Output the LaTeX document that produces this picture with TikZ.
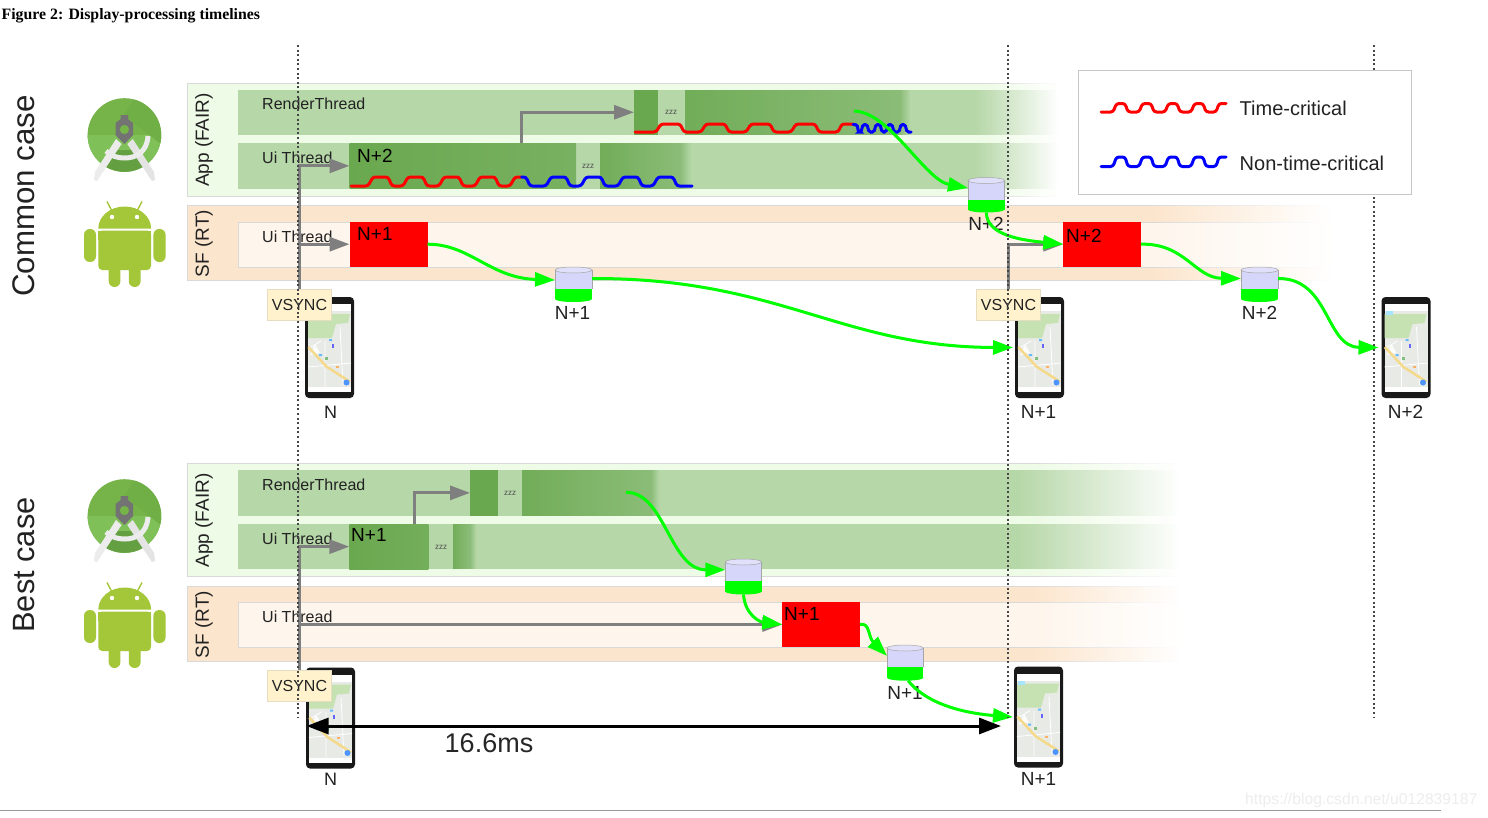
\documentclass[tikz,border=0pt]{standalone}
\usepackage{fontspec}
\setmainfont{Liberation Sans}
\newfontfamily\titlefont{Liberation Serif}
\usetikzlibrary{arrows.meta,fit}
\definecolor{appouter}{HTML}{EEFBE6}
\definecolor{appbar}{HTML}{B6D7A8}
\definecolor{sfouter}{HTML}{FCE5CD}
\definecolor{sfinner}{HTML}{FEF5EC}
\definecolor{bandline}{HTML}{D9D9D9}
\definecolor{actA}{HTML}{6AA84F}
\definecolor{actB}{HTML}{8ABC77}
\definecolor{gray1}{HTML}{7F7F7F}
\definecolor{lime}{HTML}{00FF00}
\definecolor{lav}{HTML}{D6D6FA}
\definecolor{vsfill}{HTML}{FFF2CC}
\definecolor{vsline}{HTML}{E6DCC0}
\definecolor{droid}{HTML}{A4C639}
\definecolor{txt}{HTML}{222222}
\definecolor{stA}{RGB}{118,180,74}
\definecolor{stB}{RGB}{127,193,88}
\definecolor{stC}{RGB}{112,174,70}
\definecolor{stD}{RGB}{100,160,66}
\definecolor{stE}{RGB}{236,236,236}
\definecolor{stF}{RGB}{228,228,228}
\definecolor{mapgreen}{HTML}{C6E2B2}
\definecolor{mapbg}{HTML}{E8EAE6}
\definecolor{maproad}{HTML}{F5D98B}
\tikzset{
  x=1pt,y=-1pt,
  lab/.style={inner sep=0,text=txt,font=\fontsize{#1}{#1}\selectfont},
  lab/.default=19,
  thread/.style={inner sep=0,anchor=west,text=txt,font=\fontsize{16}{16}\selectfont},
  sleep/.style={inner sep=0,text=txt!80,font=\fontsize{8}{8}\selectfont},
  boxfit/.style={inner sep=0,outer sep=0,draw=none},
  redbox/.style={boxfit,fill=red},
  grayarrow/.style={draw=gray1,line width=3pt,-{Triangle[length=20pt,width=14pt]}},
  greenarrow/.style={draw=lime,line width=3pt,-{Triangle[length=20pt,width=14pt]}},
  blackarrow/.style={draw=black,line width=3pt,{Triangle[length=22pt,width=16pt]}-{Triangle[length=22pt,width=16pt]}},
  vsyncbox/.style={fill=vsfill,draw=vsline,line width=.8pt,inner sep=0,minimum width=64pt,minimum height=31pt,text=txt,font=\fontsize{16}{16}\selectfont},
  vline/.style={draw=black!72,line width=2pt,dash pattern=on 2pt off 2.6pt},
  rwave/.style={draw=red,line width=3pt,rounded corners=2.5pt,line cap=round},
  bwave/.style={draw=blue,line width=3pt,rounded corners=2.5pt,line cap=round},
}
% horizontal fade built from strips: #1 x0, #2 x1, #3 y0, #4 y1, #5 colour at x0, #6 colour at x1
\newcommand\stripfade[6]{%
  \foreach \ii in {0,...,40}{%
    \pgfmathsetmacro\xx{#1+(#2-#1)*\ii/41}%
    \pgfmathsetmacro\pp{100-2.5*\ii}%
    \fill[#5!\pp!#6] (\xx,#3) rectangle (#2,#4);
  }%
}
% fading band: #1 x0, #2 xs (fade start), #3 xe, #4 y0, #5 y1, #6 colour, #7 edge colour
\newcommand\fadeband[7]{%
  \fill[#6] (#1,#4) rectangle (#2,#5);
  \stripfade{#2}{#3}{#4}{#5}{#6}{white}
  \draw[#7,line width=.9pt] (#2,#4) -- (#1,#4) -- (#1,#5) -- (#2,#5);
  \stripfade{#2}{#3}{#4-.45}{#4+.45}{#7}{white}
  \stripfade{#2}{#3}{#5-.45}{#5+.45}{#7}{white}
}
% plain bar with fade, no edge
\newcommand\fadebar[6]{%
  \fill[#6] (#1,#4) rectangle (#2,#5);
  \stripfade{#2}{#3}{#4}{#5}{#6}{white}
}
% active block: colours fade out at the end
\newcommand\activefade[6]{%
  \stripfade{#1}{#2}{#4}{#5}{actA!75!actB}{actB}
  \stripfade{#2}{#3}{#4}{#5}{actB}{#6}
}
% buffer: #1 name, #2 x0, #3 x1, #4 y0, #5 ylow, #6 y1
\newcommand\buffer[6]{%
  \fill[lime] (#2,#5) rectangle (#3,#6-3);
  \fill[lime] ({(#2+#3)/2},#6-3) ellipse [x radius={(#3-#2)/2*1pt},y radius=3pt];
  \fill[lav] (#2,#4+3) rectangle (#3,#5);
  \fill[lav!75!white,draw=black!35,line width=.5pt] ({(#2+#3)/2},#4+3) ellipse [x radius={(#3-#2)/2*1pt},y radius=3pt];
  \draw[black!35,line width=.5pt] (#2,#4+3) -- (#2,#5) (#3,#4+3) -- (#3,#5);
  \node[boxfit,fit={(#2,#4)(#3,#6)}] (#1) {};
}
% phone: #1 name, #2 x, #3 y  (49 x 101)
\newcommand\phone[3]{%
  \node[boxfit,fit={(#2,#3)(#2+49,#3+101)},fill=black!90,rounded corners=4pt] (#1) {};
  \begin{scope}[shift={(#2,#3)}]
    \fill[white] (3,7) rectangle (46,95);
    \fill[mapbg] (3,14) rectangle (46,90);
    \fill[mapgreen] (3,17) -- (45,17) -- (43,26) -- (31,27) -- (27,41) -- (3,41) -- cycle;
    \fill[blue!30!cyan!35!white] (4,14) rectangle (11,18);
    \draw[white,line width=.8pt] (3,52) -- (16,44) (20,44) -- (20,90) (3,70) -- (46,66) (35,30) -- (38,88);
    \fill[white,opacity=.85] (5,58) -- (10,47) -- (15,56) -- cycle;
    \draw[maproad,line width=2.5pt] (3.3,50) -- (21.6,69.7) -- (45,84.7);
    \fill[green!50!black!50!white] (20,60) rectangle (23,63);
    \fill[blue!60!white] (27,47) rectangle (29,51);
    \fill[orange!60!white] (31,69) rectangle (34,71);
    \fill[blue!45!cyan!60!white] (24,42) rectangle (27,44) (14,57) rectangle (17,59);
    \fill[blue!60!cyan!70!white] (41.5,85.5) circle [radius=3pt];
    \fill[white] (3,90) rectangle (46,95);
  \end{scope}
}
\newcommand\studioicon[1]{%
  \begin{scope}[shift={(0,#1)}]
    \fill[stA] (124.4,135) circle [radius=36.8pt];
    \begin{scope}
      \clip (124.4,135) circle [radius=36.8pt];
      \fill[stB] (87,135) rectangle (162,173);
      \fill[stC] (124,115) -- (162,145) -- (162,98) -- (135,98) -- cycle;
      \fill[stD] (113,150) -- (135,150) -- (147,173) -- (103,173) -- cycle;
    \end{scope}
    \fill[stE] (116,139) -- (121.5,144) -- (97,181) -- (94,180) -- (95,172) -- cycle;
    \fill[stF] (132.8,139) -- (127.3,144) -- (152,181) -- (155,180) -- (154,172) -- cycle;
    \draw[stE,line width=5pt] (148,136) .. controls (147,152) and (136,158) .. (125,158) .. controls (116,158) and (110,155) .. (106,151);
    \fill[black!55] (120.7,115) -- (128,115) -- (128,119) -- (133,123) -- (133,135) -- (124.4,144) -- (115.5,135) -- (115.5,123) -- (120.7,119) -- cycle;
    \fill[stA] (124.4,129.5) circle [radius=4.6pt];
  \end{scope}
}
\newcommand\androidicon[1]{%
  \begin{scope}[shift={(0,#1)}]
    \fill[droid] (98.3,228.5) arc [start angle=180,end angle=0,x radius=26.4pt,y radius=22pt] -- cycle;
    \fill[droid,rounded corners=4pt] (98.3,230.5) -- (151,230.5) -- (151,270) -- (98.3,270) -- cycle;
    \fill[droid] (98.3,230.5) rectangle (151,240);
    \fill[droid,rounded corners=5.8pt] (84,229) rectangle (96,262);
    \fill[droid,rounded corners=5.8pt] (153.4,229) rectangle (165.6,262);
    \fill[droid,rounded corners=5.8pt] (108.7,255) rectangle (120.4,287);
    \fill[droid,rounded corners=5.8pt] (128.8,255) rectangle (140.6,287);
    \draw[droid,line width=1.4pt] (107,201.5) -- (112,211) (142,201.5) -- (137,211);
    \fill[white] (112,217) circle [radius=2.2pt] (137,217) circle [radius=2.2pt];
  \end{scope}
}
\begin{document}
\begin{tikzpicture}
\useasboundingbox (0,0) rectangle (1488,817);
\fill[white] (0,0) rectangle (1488,817);
\node[anchor=west,inner sep=0,font=\titlefont\bfseries\fontsize{15.8}{15.8}\selectfont] (title) at (1.5,16) {Figure 2: Display-processing timelines};
\draw[black!40,line width=1pt] (0,810.3) -- (1441,810.3);
\node[inner sep=0,anchor=west,text=black!7,font=\fontsize{15.7}{15.7}\selectfont] (mark) at (1245,800) {https://blog.csdn.net/u012839187};

% ------ common case bands
\node[lab=31.3,rotate=90] (common) at (24,196) {Common case};
\studioicon{0}
\androidicon{0}
\fadeband{187.5}{985}{1062}{83.5}{196}{appouter}{bandline}
\fadeband{187.5}{1150}{1335}{205}{280.5}{sfouter}{bandline}
\fadebar{238}{975}{1060}{89.5}{135}{appbar}
\fadebar{238}{975}{1060}{143}{188.7}{appbar}
\fadeband{238}{1150}{1335}{222}{267}{sfinner}{bandline}
\node[lab=19,rotate=90] (appA) at (204,140) {App (FAIR)};
\node[lab=19,rotate=90] (sfA) at (204,243.5) {SF (RT)};
\node[thread] (rtA) at (262,103.5) {RenderThread};
\node[thread] (uiA) at (262,158) {Ui Thread};
\node[thread] (sfuiA) at (262,236.5) {Ui Thread};

% active blocks
\node[boxfit,fit={(634,89.5)(658,135)},fill=actA] (rtblockA) {};
\activefade{685}{900}{911}{89.5}{135}{appbar}
\node[boxfit,fit={(349.5,143)(576,188.7)},left color=actA,right color=actA!55!actB] (uiblockA) {};
\activefade{600}{680}{692}{143}{188.7}{appbar}
\node[sleep] (zzzA) at (671,112) {zzz};
\node[sleep] (zzzB) at (588,166) {zzz};
\node[redbox,fit={(349.5,221.7)(427.5,266.7)}] (redA) {};
\node[redbox,fit={(1063.3,221.7)(1141,266.7)}] (redB) {};
\node[lab,anchor=west,text=black] (nA) at (357,155.5) {N+2};
\node[lab,anchor=west,text=black] (nB) at (357,234) {N+1};
\node[lab,anchor=west,text=black] (nC) at (1066,236) {N+2};

% waves
\draw[rwave] (635,132) foreach \rr in {658,703,748,793}{ -- ({\rr-2},132) -- ({\rr+3},124) -- ({\rr+22},124) -- ({\rr+26},132)} -- (838,132) -- (842,124) -- (853,124);
\draw[bwave,rounded corners=1.6pt] (853,124.5) -- (857,124.5) -- (858.5,132) foreach \rr in {862,875,887,900}{ -- ({\rr-1},132) -- ({\rr+1},124.5) -- ({\rr+5},124.5) -- ({\rr+7},132)} -- (911,132);
\draw[rwave] (351,186) foreach \rr in {370,405,441,477}{ -- ({\rr-2},186) -- ({\rr+3},177) -- ({\rr+18},177) -- ({\rr+22},186)} -- (510,186) -- (515,177) -- (521,177);
\draw[bwave] (521.5,177) -- (526,177) -- (530,186) foreach \rr in {548,583,620,655}{ -- ({\rr-2},186) -- ({\rr+3},177) -- ({\rr+18},177) -- ({\rr+22},186)} -- (692,186);

% ------ best case bands
\node[lab=30.8,rotate=90] (best) at (24,565) {Best case};
\studioicon{381}
\androidicon{381}
\fadeband{187.5}{1030}{1185}{463.5}{576.7}{appouter}{bandline}
\fadeband{187.5}{1030}{1185}{586}{661.7}{sfouter}{bandline}
\fadebar{238}{1015}{1183}{470}{515.7}{appbar}
\fadebar{238}{1015}{1183}{524}{569.3}{appbar}
\fadeband{238}{1030}{1185}{602.7}{647.3}{sfinner}{bandline}
\node[lab=19,rotate=90] (appB) at (204,520.5) {App (FAIR)};
\node[lab=19,rotate=90] (sfB) at (204,624.5) {SF (RT)};
\node[thread] (rtB) at (262,484.5) {RenderThread};
\node[thread] (uiB) at (262,538.5) {Ui Thread};
\node[thread] (sfuiB) at (262,616.5) {Ui Thread};
\node[boxfit,fit={(470,470)(497.7,515.7)},fill=actA] (rtblockB) {};
\activefade{522}{651}{660}{470}{515.7}{appbar}
\node[boxfit,fit={(349.3,524)(428.3,569.3)},left color=actA,right color=actA!70!actB] (uiblockB) {};
\activefade{452.7}{470}{477}{524}{569.3}{appbar}
\node[sleep] (zzzC) at (510,493) {zzz};
\node[sleep] (zzzD) at (441,547) {zzz};
\node[redbox,fit={(782.3,602.3)(860,646.7)}] (redC) {};
\node[lab,anchor=west,text=black] (nD) at (351,535) {N+1};
\node[lab,anchor=west,text=black] (nE) at (784,613.5) {N+1};

% ------ phones
\phone{phA}{305}{297}
\phone{phB}{1015}{297}
\phone{phC}{1381.5}{297}
\phone{phD}{306}{667.5}
\phone{phE}{1014}{666.5}
\node[lab=18] (pA) at (330.5,412) {N};
\node[lab] (pB) at (1038.5,412) {N+1};
\node[lab] (pC) at (1405.5,412) {N+2};
\node[lab=18] (pD) at (330.5,779) {N};
\node[lab] (pE) at (1038.5,779) {N+1};

% ------ buffers
\buffer{bufA}{555}{592}{267}{289}{302}
\buffer{bufB}{968}{1004.5}{177.5}{200}{212.5}
\buffer{bufC}{1241}{1278}{267}{289}{302}
\buffer{bufD}{725.3}{761.7}{559}{581}{594.5}
\buffer{bufE}{887}{923.3}{645}{667.3}{680.7}
\node[lab] (lA) at (572.5,313) {N+1};
\node[lab] (lB) at (986,224) {N+2};
\node[lab] (lC) at (1259.5,313) {N+2};
\node[lab] (lD) at (905,692.5) {N+1};

% ------ vsync
\node[vsyncbox] (vsA) at (299.5,305.3) {VSYNC};
\node[vsyncbox] (vsB) at (1008.5,305.3) {VSYNC};
\node[vsyncbox] (vsC) at (299.5,686.2) {VSYNC};

% ------ gray connectors
\coordinate (rtsrcA) at (521,143);
\coordinate (rtsrcB) at (414,524);
\draw[grayarrow] (vsA.north) |- (uiblockA.west);
\draw[grayarrow] (vsA.north) |- (redA.west);
\draw[grayarrow] (rtsrcA) |- (rtblockA.west);
\draw[grayarrow] (vsB.north) |- (redB.west);
\draw[grayarrow] (vsC.north) |- (uiblockB.west);
\draw[grayarrow] (vsC.north) |- (redC.west);
\draw[grayarrow] (rtsrcB) |- (rtblockB.west);

% ------ green connectors
\coordinate (srcA) at (854,111);
\coordinate (srcB) at (626,492.3);
\draw[greenarrow] (srcA) .. controls (890,112) and (925,180) .. ([yshift=7pt]bufB.west);
\draw[greenarrow] (bufB.south) .. controls (987,235) and (1020,240) .. (redB.west);
\draw[greenarrow] (redA.east) .. controls (470,244) and (490,278) .. ([yshift=4.5pt]bufA.west);
\draw[greenarrow] ([yshift=6pt]bufA.east) .. controls (780,278) and (840,347) .. ([xshift=-2pt]phB.west);
\draw[greenarrow] (redB.east) .. controls (1185,243) and (1195,278) .. ([yshift=6pt]bufC.west);
\draw[greenarrow] ([yshift=6pt]bufC.east) .. controls (1330,278) and (1325,347) .. ([xshift=-3pt]phC.west);
\draw[greenarrow] (srcB) .. controls (665,492) and (670,570) .. ([yshift=7pt]bufD.west);
\draw[greenarrow] (bufD.south) .. controls (745,615) and (760,622) .. (redC.west);
\draw[greenarrow] (redC.east) .. controls (870,622) and (868,637) .. ([yshift=7pt]bufE.west);
\draw[greenarrow] ([xshift=3pt]bufE.south) .. controls (930,708) and (975,714) .. ([xshift=-1pt]phE.west);

% ------ black span
\coordinate (spanL) at (306.5,726);
\coordinate (spanR) at (1001,726);
\draw[blackarrow] (spanL) -- (spanR);
\node[lab=27,text=black!85] (span) at (489,743.5) {16.6ms};

% ------ dotted lines
\draw[vline] (298,45) -- (298,718);
\draw[vline] (1008,45) -- (1008,718);
\draw[vline] (1374,45) -- (1374,718);

% ------ legend
\node[boxfit,fit={(1078.7,70)(1411.7,194.5)},fill=white,draw=black!22,line width=1pt] (legend) {};
\draw[rwave] (1101,112) foreach \rr in {1114,1140,1166,1192}{ -- ({\rr-1},112) -- ({\rr+2.5},103.5) -- ({\rr+11},103.5) -- ({\rr+14},112)} -- (1216,112) -- (1219,103.5) -- (1226,103.5);
\draw[bwave] (1101,166.5) foreach \rr in {1114,1140,1166,1192}{ -- ({\rr-1},166.5) -- ({\rr+2.5},157) -- ({\rr+11},157) -- ({\rr+14},166.5)} -- (1216,166.5) -- (1219,157) -- (1226,157);
\node[lab=20,anchor=west] (tc) at (1239.5,108.5) {Time-critical};
\node[lab=20,anchor=west] (ntc) at (1239.5,163) {Non-time-critical};
\end{tikzpicture}
\end{document}
